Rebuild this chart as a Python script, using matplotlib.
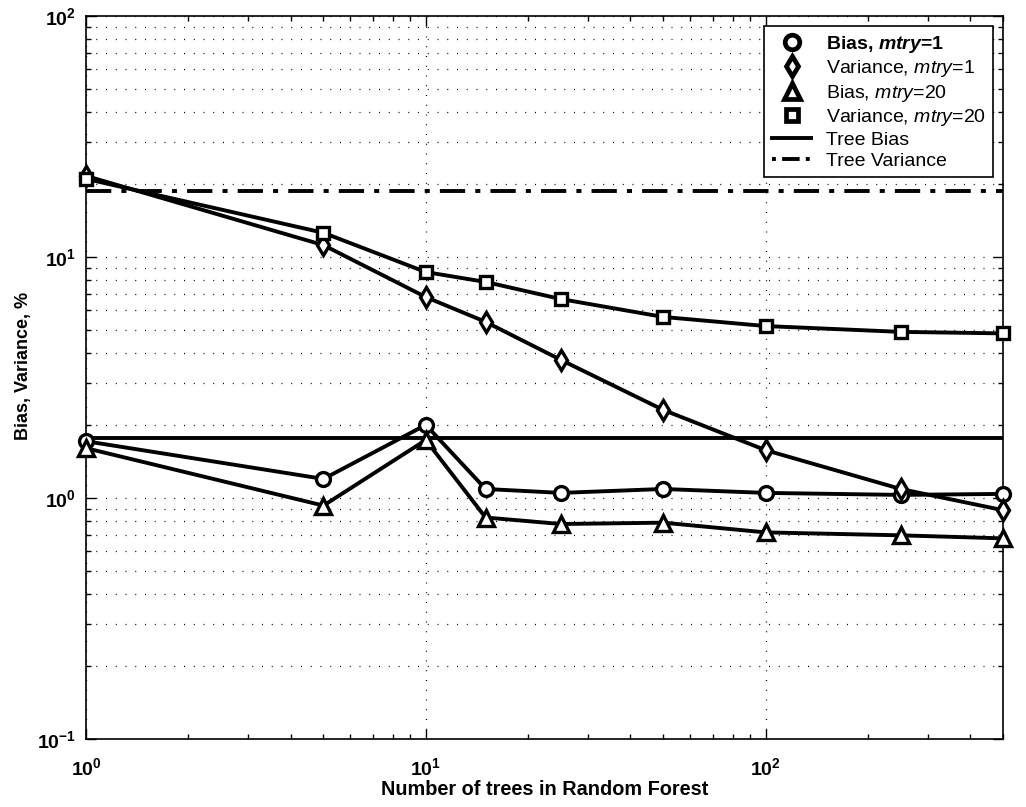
import matplotlib
matplotlib.use("Agg")
import matplotlib.pyplot as plt
from matplotlib.lines import Line2D
from matplotlib.ticker import LogLocator, NullFormatter

plt.rcParams['font.family'] = ['Liberation Sans', 'DejaVu Sans']
plt.rcParams['mathtext.fontset'] = 'custom'
plt.rcParams['mathtext.rm'] = 'Liberation Sans'
plt.rcParams['mathtext.it'] = 'Liberation Sans:italic'
plt.rcParams['mathtext.bf'] = 'Liberation Sans:bold'
plt.rcParams['mathtext.bfit'] = 'Liberation Sans:bold:italic'

# ---- data ----
n_trees = [1, 5, 10, 15, 25, 50, 100, 250, 500]
bias_mtry1 = [1.72, 1.20, 2.01, 1.09, 1.05, 1.09, 1.05, 1.03, 1.04]
var_mtry1 = [21.7, 11.2, 6.82, 5.38, 3.74, 2.32, 1.58, 1.09, 0.89]
bias_mtry20 = [1.61, 0.93, 1.74, 0.83, 0.78, 0.79, 0.72, 0.70, 0.68]
var_mtry20 = [21.1, 12.6, 8.66, 7.88, 6.69, 5.64, 5.17, 4.89, 4.82]
tree_bias = 1.77
tree_variance = 18.8

labels = [r"Bias, $\mathbfit{mtry}$=1",
          r"Variance, $\mathit{mtry}$=1",
          r"Bias, $\mathit{mtry}$=20",
          r"Variance, $\mathit{mtry}$=20",
          "Tree Bias",
          "Tree Variance"]

fig = plt.figure(figsize=(10.26, 8.07), dpi=100)
ax = fig.add_axes([86/1026, 1-739/807, (1003-86)/1026, (739-16)/807])
ax.set_xscale('log')
ax.set_yscale('log')
ax.set_xlim(1, 500)
ax.set_ylim(0.1, 100)

lw = 2.8
mew = 2.4
dashdot = (0, (6.5, 2.6, 1.3, 2.6))
series = [(bias_mtry1, 'o'), (var_mtry1, 'd'), (bias_mtry20, '^'), (var_mtry20, 's')]
sizes = {'o': 10, 'd': 10, '^': 11.5, 's': 8.5}
for vals, m in series:
    ax.plot(n_trees, vals, color='black', lw=lw, marker=m, ms=sizes[m],
            mfc='white', mec='black', mew=mew, zorder=4, clip_on=False)

ax.axhline(tree_bias, color='black', lw=lw, zorder=3)
ax.axhline(tree_variance, color='black', lw=lw, linestyle=dashdot, zorder=3)

# grid
ax.grid(True, which='major', axis='both', color='black', linestyle=(0, (0.8, 7)), lw=0.9)
ax.grid(True, which='minor', axis='y', color='black', linestyle=(0, (0.8, 7)), lw=0.9)
ax.set_axisbelow(True)

ax.xaxis.set_minor_locator(LogLocator(base=10, subs=range(2, 10), numticks=20))
ax.yaxis.set_minor_locator(LogLocator(base=10, subs=range(2, 10), numticks=20))
ax.xaxis.set_minor_formatter(NullFormatter())
ax.yaxis.set_minor_formatter(NullFormatter())
ax.tick_params(which='both', direction='in', top=True, right=True, width=1.0)
ax.tick_params(which='major', length=7, labelsize=14)
ax.tick_params(axis='x', which='major', pad=13)
ax.tick_params(axis='y', which='major', pad=7)
ax.tick_params(which='minor', length=3.5)
for lab in ax.get_xticklabels() + ax.get_yticklabels():
    lab.set_fontweight('bold')
for sp in ax.spines.values():
    sp.set_linewidth(1.2)

ax.set_xlabel("Number of trees in Random Forest", fontsize=14.3, fontweight='bold', labelpad=1)
ax.set_ylabel("Bias, Variance, %", fontsize=13, fontweight='bold')
ax.yaxis.set_label_coords(-0.059, 0.516)

handles = [Line2D([], [], color='black', marker=m, ms=sizes[m] * 1.05, mfc='white', mec='black',
                  mew=3.4, linestyle='none') for _, m in series]
handles.append(Line2D([], [], color='black', lw=lw))
handles.append(Line2D([], [], color='black', lw=lw, linestyle=(0, (1.0, 1.6, 4.5, 1.6))))
leg = ax.legend(handles, labels, loc='upper right', bbox_to_anchor=(0.9895, 0.986),
                fontsize=14, frameon=True, fancybox=False, edgecolor='black',
                framealpha=1, borderpad=0.4, labelspacing=0.17, handlelength=2.0,
                handletextpad=0.75, borderaxespad=0.0)
leg.get_frame().set_linewidth(1.2)
leg.get_texts()[0].set_fontweight('bold')
leg.set_zorder(10)

fig.savefig("out.png", dpi=100)
